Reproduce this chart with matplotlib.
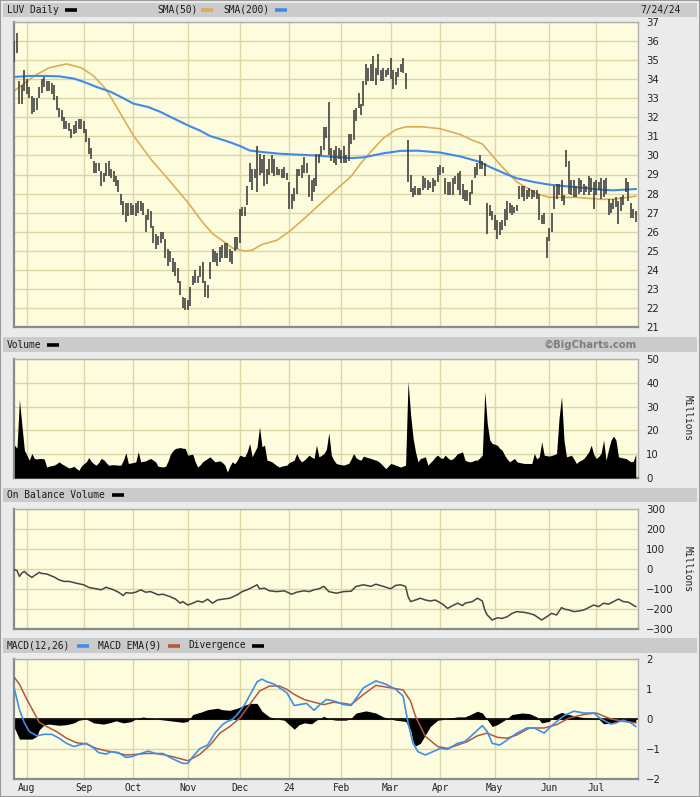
import numpy as np
import pandas as pd
import matplotlib
matplotlib.use("Agg")
import matplotlib.pyplot as plt
from matplotlib.patches import Rectangle
from matplotlib.lines import Line2D

plt.rcParams["font.family"] = "DejaVu Sans"

W, H = 700, 797

# -----------------------------
# Trading calendar (LUV daily, 7/25/23 - 7/24/24)
# -----------------------------
holidays = ["2023-09-04", "2023-11-23", "2023-12-25", "2024-01-01", "2024-01-15",
            "2024-02-19", "2024-03-29", "2024-05-27", "2024-06-19", "2024-07-04"]
dates = pd.bdate_range("2023-07-25", "2024-07-24", freq="C", holidays=holidays)
month_labels = ["Aug", "Sep", "Oct", "Nov", "Dec", "24", "Feb", "Mar", "Apr", "May", "Jun", "Jul"]

# -----------------------------
# Daily price range
# -----------------------------
high = [36.0, 36.4, 33.9, 33.7, 34.5, 34.0, 33.6, 33.1, 33.0, 33.0,
        33.6, 34.0, 34.1, 33.9, 33.9, 33.8, 33.7, 33.1, 32.5, 32.4,
        32.0, 31.8, 31.7, 31.4, 31.6, 31.8, 31.9, 31.9, 31.8, 31.4,
        30.9, 30.4, 29.7, 29.6, 29.6, 29.2, 29.1, 29.6, 29.7, 29.3,
        29.2, 28.9, 28.7, 28.0, 27.6, 27.5, 27.5, 27.5, 27.4, 27.5,
        27.6, 27.6, 27.5, 26.9, 27.2, 27.1, 26.3, 25.9, 25.8, 26.0,
        26.0, 25.6, 25.1, 25.0, 24.6, 24.4, 24.1, 23.4, 22.6, 22.5,
        22.4, 23.1, 23.7, 24.0, 23.7, 24.2, 24.4, 23.4, 23.2, 24.4,
        25.1, 25.0, 24.9, 25.2, 25.3, 25.4, 25.4, 25.1, 25.0, 25.7,
        25.7, 27.2, 27.3, 27.3, 28.4, 29.6, 29.3, 29.3, 30.5, 30.1,
        29.8, 30.0, 29.3, 29.8, 30.0, 29.8, 29.4, 29.3, 29.3, 29.4,
        29.1, 28.6, 28.0, 28.3, 29.3, 29.3, 29.5, 29.9, 29.6, 29.0,
        28.7, 28.8, 30.1, 30.1, 30.5, 31.5, 31.5, 32.8, 30.4, 30.3,
        30.5, 30.4, 30.3, 30.5, 30.0, 31.1, 31.1, 32.4, 32.5, 33.3,
        32.7, 33.9, 34.8, 34.6, 34.8, 35.2, 34.6, 35.3, 34.5, 34.6,
        34.5, 34.6, 35.1, 34.5, 34.4, 34.6, 34.8, 35.1, 34.3, 30.8,
        29.0, 28.3, 28.4, 28.3, 28.3, 28.9, 28.8, 28.7, 28.6, 28.8,
        28.7, 29.4, 29.5, 29.4, 28.8, 28.6, 28.6, 28.8, 28.9, 29.1,
        29.2, 28.5, 28.2, 28.2, 28.1, 28.7, 29.4, 29.6, 30.0, 29.7,
        29.6, 27.5, 27.4, 27.1, 26.9, 26.6, 26.5, 26.6, 27.2, 27.6,
        27.5, 27.4, 27.3, 27.4, 28.4, 28.4, 28.4, 28.2, 28.3, 28.2,
        28.2, 28.2, 28.0, 26.9, 27.0, 25.7, 26.2, 27.0, 28.4, 28.5,
        28.5, 28.7, 27.9, 30.3, 29.7, 28.7, 28.7, 28.4, 28.8, 28.7,
        28.5, 28.4, 28.9, 28.8, 28.6, 28.7, 28.6, 28.8, 28.7, 28.8,
        27.7, 27.5, 27.7, 27.8, 27.6, 27.8, 27.9, 28.8, 28.6, 27.5,
        27.2, 27.1]
low = [34.9, 35.4, 32.7, 32.7, 33.4, 33.2, 33.0, 32.2, 32.3, 32.4,
       33.0, 33.3, 33.6, 33.4, 33.4, 33.2, 32.9, 32.4, 32.0, 31.8,
       31.4, 31.4, 31.3, 30.9, 31.1, 31.2, 31.4, 31.4, 31.2, 30.7,
       30.1, 29.8, 29.1, 29.1, 29.2, 28.4, 28.6, 28.9, 28.9, 28.8,
       28.6, 28.4, 28.1, 27.4, 26.9, 26.5, 26.8, 26.9, 26.9, 26.8,
       27.0, 27.1, 26.9, 26.0, 26.6, 26.2, 25.4, 25.1, 25.3, 25.4,
       25.6, 24.6, 24.2, 24.4, 23.9, 23.7, 23.3, 22.7, 22.0, 21.9,
       21.9, 22.1, 23.2, 23.3, 23.3, 23.6, 23.3, 22.6, 22.5, 23.5,
       24.4, 24.4, 24.2, 24.4, 24.6, 24.6, 24.6, 24.4, 24.3, 25.0,
       25.1, 25.4, 26.8, 26.8, 27.4, 28.6, 28.2, 28.8, 28.1, 29.0,
       29.1, 28.4, 28.5, 29.0, 29.1, 28.9, 29.0, 29.0, 28.8, 28.8,
       28.7, 27.2, 27.2, 27.6, 28.0, 28.9, 28.8, 29.1, 29.1, 27.8,
       27.6, 28.1, 28.4, 29.6, 30.0, 30.3, 30.9, 30.0, 29.7, 29.6,
       29.5, 29.8, 29.6, 29.6, 29.6, 29.7, 30.6, 30.8, 31.8, 32.5,
       32.1, 32.6, 33.7, 33.9, 33.9, 33.9, 33.7, 34.2, 33.9, 33.9,
       34.1, 34.2, 34.0, 33.5, 33.7, 34.1, 34.4, 34.3, 33.5, 28.6,
       28.1, 27.8, 27.9, 27.9, 27.9, 28.2, 28.3, 28.2, 28.3, 28.1,
       28.4, 28.6, 29.0, 29.1, 28.0, 27.9, 27.9, 27.9, 28.5, 28.2,
       27.9, 27.7, 27.6, 27.6, 27.4, 28.0, 28.8, 29.0, 29.3, 29.3,
       28.9, 25.9, 26.8, 26.6, 26.1, 25.6, 25.85, 26.1, 26.3, 26.6,
       27.0, 26.9, 27.0, 27.1, 27.7, 27.8, 27.6, 27.7, 27.8, 27.7,
       27.8, 27.7, 26.6, 26.4, 26.4, 24.6, 25.5, 26.0, 27.2, 27.7,
       27.9, 27.6, 27.4, 29.4, 28.0, 27.9, 27.8, 27.8, 28.0, 28.1,
       27.9, 28.1, 27.9, 28.1, 27.2, 27.9, 28.2, 27.7, 27.8, 28.0,
       26.9, 27.0, 27.2, 27.3, 26.4, 27.1, 27.4, 28.1, 27.6, 26.7,
       26.7, 26.5]

# Moving averages (day index, value)
sma50_day = [0, 8, 14, 21, 27, 32, 37, 41, 48, 55, 62, 70, 76, 80, 84, 88, 93, 96,
             100, 106, 111, 118, 123, 129, 136, 140, 144, 149, 154, 158, 165, 172,
             180, 185, 189, 193, 197, 203, 207, 211, 216, 227, 237, 242, 251]
sma50_val = [33.4, 34.17, 34.6, 34.8, 34.6, 34.17, 33.47, 32.6, 31.05, 29.82,
             28.77, 27.54, 26.49, 25.9, 25.53, 25.15, 24.98, 25.03, 25.33, 25.55,
             26.0, 26.8, 27.4, 28.1, 28.9, 29.6, 30.2, 30.9, 31.35, 31.5, 31.5,
             31.4, 31.1, 30.8, 30.6, 30.0, 29.4, 28.6, 28.3, 28.0, 27.8, 27.8,
             27.7, 27.7, 27.86]
sma200_day = [0, 6, 12, 18, 24, 28, 33, 39, 44, 48, 54, 59, 64, 70, 75, 79, 86,
              91, 95, 100, 107, 121, 132, 136, 141, 149, 156, 163, 172, 180, 187,
              193, 199, 203, 210, 216, 223, 230, 237, 242, 251]
sma200_val = [34.12, 34.17, 34.17, 34.15, 34.03, 33.86, 33.6, 33.33, 33.0, 32.72,
              32.54, 32.28, 31.96, 31.58, 31.3, 31.02, 30.74, 30.5, 30.26, 30.18,
              30.09, 30.0, 29.9, 29.86, 29.9, 30.11, 30.24, 30.25, 30.15, 29.95,
              29.7, 29.34, 29.0, 28.8, 28.6, 28.47, 28.38, 28.3, 28.2, 28.17, 28.24]

# Volume, millions per day
volume = [13.8, 12.5, 33.0, 22.0, 11.7, 9.6, 7.5, 10.3, 8.2, 8.0,
          8.2, 8.2, 8.0, 4.6, 5.0, 5.2, 5.4, 6.0, 6.8, 6.0,
          5.4, 4.8, 4.2, 4.5, 4.9, 4.0, 3.2, 5.0, 6.0, 6.8,
          8.6, 7.0, 6.0, 5.4, 6.5, 8.2, 7.7, 6.5, 5.4, 5.5,
          5.6, 5.5, 5.4, 5.4, 7.5, 10.6, 6.1, 6.3, 6.5, 6.8,
          11.0, 6.8, 7.0, 7.2, 7.8, 8.2, 7.5, 6.8, 4.9, 4.8,
          4.6, 4.9, 7.0, 10.0, 11.5, 12.4, 12.6, 12.8, 12.5, 12.4,
          9.6, 9.8, 10.0, 6.8, 4.6, 5.5, 6.8, 7.5, 8.2, 8.9,
          7.8, 6.8, 7.0, 7.2, 6.5, 5.4, 2.5, 5.0, 6.8, 6.0,
          7.5, 9.6, 9.2, 8.9, 11.0, 14.5, 8.9, 11.0, 13.1, 21.5,
          13.1, 13.8, 7.5, 7.2, 6.8, 6.0, 5.2, 4.6, 5.0, 5.2,
          5.4, 6.5, 7.0, 7.5, 10.3, 8.0, 6.8, 7.5, 8.5, 9.6,
          8.8, 8.2, 13.8, 8.9, 9.5, 10.3, 12.0, 19.0, 9.6, 7.5,
          6.1, 5.8, 5.6, 5.4, 5.8, 6.1, 8.0, 10.3, 8.5, 7.8,
          7.5, 9.2, 8.8, 8.5, 8.2, 7.8, 7.5, 7.0, 6.1, 5.0,
          3.9, 5.0, 6.1, 5.8, 5.4, 5.0, 4.6, 5.0, 5.4, 40.6,
          27.0, 17.0, 11.0, 6.8, 8.2, 8.5, 8.9, 5.4, 6.5, 7.5,
          8.9, 9.6, 8.5, 8.2, 9.6, 8.5, 7.7, 8.0, 9.0, 10.3,
          10.5, 11.0, 7.5, 7.0, 6.8, 7.0, 7.5, 7.5, 8.5, 9.6,
          36.3, 23.0, 16.0, 14.5, 14.2, 13.8, 12.5, 11.7, 9.6, 8.0,
          6.8, 7.5, 8.2, 6.8, 6.5, 6.3, 6.1, 6.1, 6.1, 6.1,
          10.3, 8.0, 8.9, 15.2, 9.6, 9.4, 9.2, 9.5, 9.8, 10.3,
          25.0, 34.2, 15.9, 8.9, 9.2, 9.6, 8.0, 6.1, 7.0, 7.5,
          8.2, 9.5, 11.0, 13.8, 10.0, 8.2, 9.0, 10.5, 15.9, 7.5,
          12.0, 15.9, 17.6, 15.9, 8.9, 8.6, 8.4, 8.2, 7.5, 6.8,
          7.0, 10.0]

# On balance volume, millions (day index, value)
obv_day = [0, 1, 2, 3, 4, 5, 7, 9, 10, 11, 13, 16, 18, 20, 22, 25, 28, 30, 33, 35,
           37, 40, 42, 44, 45, 47, 49, 51, 53, 55, 58, 60, 63, 65, 67, 68, 70, 72,
           74, 76, 78, 80, 82, 84, 87, 90, 92, 94, 96, 98, 99, 101, 103, 106, 109,
           112, 114, 117, 119, 121, 123, 125, 127, 130, 133, 136, 138, 141, 144,
           146, 149, 152, 154, 156, 158, 159, 160, 162, 164, 166, 168, 170, 173,
           175, 177, 179, 181, 182, 185, 187, 189, 190, 191, 193, 195, 197, 199,
           201, 203, 206, 208, 210, 213, 215, 217, 219, 221, 222, 224, 226, 228,
           230, 232, 234, 236, 238, 240, 242, 244, 246, 248, 251]
obv_val = [-3, -8, -37, -20, -12, -25, -42, -25, -17, -22, -25, -40, -54, -62, -62,
           -71, -79, -92, -99, -104, -91, -104, -116, -133, -118, -121, -116, -104,
           -116, -113, -129, -126, -139, -150, -171, -163, -180, -171, -160, -166,
           -151, -171, -155, -151, -146, -129, -113, -104, -92, -79, -99, -96, -109,
           -113, -109, -126, -116, -109, -113, -104, -99, -87, -113, -121, -113,
           -111, -87, -79, -87, -76, -87, -99, -82, -79, -87, -138, -163, -155,
           -146, -155, -160, -155, -176, -197, -183, -171, -183, -171, -163, -146,
           -160, -205, -230, -255, -244, -247, -239, -222, -213, -217, -222, -230,
           -255, -239, -222, -230, -193, -200, -205, -213, -210, -205, -193, -180,
           -188, -171, -176, -163, -150, -163, -166, -188]

# MACD(12,26), EMA(9) and divergence (day index, value)
macd_day = [0, 2, 4, 6, 9, 12, 15, 18, 21, 24, 26, 29, 32, 34, 37, 39, 42, 45, 47,
            51, 54, 57, 60, 63, 65, 68, 70, 72, 75, 78, 81, 84, 86, 88, 90, 93, 96,
            98, 100, 102, 105, 107, 110, 113, 115, 118, 121, 123, 126, 129, 133,
            136, 141, 146, 150, 154, 157, 159, 161, 163, 166, 169, 172, 175, 179,
            182, 185, 189, 191, 193, 196, 199, 203, 207, 210, 214, 216, 220, 222,
            226, 230, 234, 237, 241, 243, 246, 249, 251]
macd_val = [0.99, 0.31, -0.13, -0.42, -0.56, -0.51, -0.51, -0.64, -0.81, -0.92,
            -0.87, -0.81, -0.97, -1.12, -1.17, -1.09, -1.12, -1.28, -1.26, -1.15,
            -1.07, -1.15, -1.15, -1.29, -1.37, -1.48, -1.48, -1.26, -0.98, -0.87,
            -0.47, -0.19, -0.08, -0.02, 0.15, 0.48, 0.93, 1.24, 1.33, 1.24, 1.16,
            1.04, 0.88, 0.45, 0.48, 0.52, 0.29, 0.45, 0.65, 0.6, 0.48, 0.45, 1.04,
            1.27, 1.16, 0.99, 0.76, -0.13, -0.81, -1.09, -1.2, -1.09, -0.98, -1.01,
            -0.81, -0.75, -0.53, -0.22, -0.42, -0.81, -0.87, -0.7, -0.47, -0.3,
            -0.3, -0.47, -0.3, -0.02, 0.11, 0.26, 0.2, 0.2, 0.0, -0.17, -0.13,
            -0.04, -0.13, -0.25]
ema_day = [0, 2, 5, 8, 10, 13, 17, 21, 25, 29, 33, 37, 41, 45, 49, 53, 57, 61, 65,
           70, 72, 75, 79, 83, 87, 91, 95, 99, 103, 107, 110, 113, 117, 121, 125,
           129, 133, 136, 141, 146, 152, 157, 160, 162, 166, 171, 175, 179, 183,
           187, 191, 195, 199, 203, 208, 214, 219, 224, 230, 235, 241, 246, 251]
ema_val = [1.38, 1.16, 0.65, 0.2, -0.11, -0.25, -0.42, -0.64, -0.79, -0.83, -0.98,
           -1.06, -1.12, -1.2, -1.18, -1.15, -1.15, -1.2, -1.28, -1.39, -1.31,
           -1.17, -0.87, -0.47, -0.25, 0.03, 0.48, 0.93, 1.1, 1.1, 0.99, 0.82,
           0.65, 0.56, 0.48, 0.56, 0.52, 0.48, 0.82, 1.12, 1.04, 0.97, 0.6, 0.09,
           -0.58, -0.92, -0.98, -0.87, -0.75, -0.56, -0.47, -0.61, -0.64, -0.53,
           -0.3, -0.3, -0.19, 0.03, 0.15, 0.2, 0.0, -0.08, -0.13]
div_day = [0, 2, 7, 9, 10, 12, 14, 18, 21, 24, 26, 29, 32, 36, 39, 41, 44, 47, 49,
           52, 54, 57, 61, 65, 68, 70, 72, 75, 78, 82, 84, 87, 90, 92, 95, 98, 100,
           103, 106, 109, 111, 113, 115, 117, 120, 122, 125, 127, 130, 134, 136,
           138, 142, 146, 149, 152, 154, 158, 160, 161, 162, 164, 166, 168, 171,
           173, 176, 179, 182, 185, 187, 189, 191, 193, 195, 198, 201, 205, 208,
           211, 213, 216, 218, 221, 224, 228, 232, 236, 238, 242, 245, 249, 251]
div_val = [-0.3, -0.67, -0.67, -0.58, -0.36, -0.19, -0.17, -0.21, -0.19, -0.13,
           -0.04, 0.0, -0.13, -0.17, -0.11, -0.06, -0.13, -0.09, 0.0, 0.07, 0.03,
           0.0, -0.04, -0.08, -0.11, -0.08, 0.15, 0.22, 0.31, 0.36, 0.31, 0.29,
           0.36, 0.43, 0.52, 0.52, 0.26, 0.07, 0.0, -0.04, -0.19, -0.34, -0.19,
           -0.13, -0.16, -0.04, 0.09, 0.0, -0.04, -0.04, 0.03, 0.2, 0.27, 0.2,
           0.07, 0.0, -0.04, -0.08, -0.36, -0.75, -0.9, -0.81, -0.53, -0.25,
           -0.04, -0.02, 0.03, 0.07, 0.07, 0.18, 0.26, 0.2, -0.02, -0.25, -0.19,
           -0.04, 0.15, 0.2, 0.18, 0.07, -0.13, -0.08, 0.11, 0.22, 0.15, 0.07,
           0.03, 0.0, -0.16, -0.13, -0.04, -0.08, -0.11]

# -----------------------------
# Styling
# -----------------------------
bg_outer = "#ebebeb"
bar_gray = "#cbcbcb"
plot_bg = "#fdfcdd"
grid_col = "#dcd6a6"
sma50_col = "#dcad56"
sma200_col = "#3f8ae8"
macd_col = "#3f8fe8"
ema_col = "#b3573f"
mono = "DejaVu Sans Mono"

x = np.arange(len(dates))
month_pos = np.flatnonzero(np.diff(dates.month) != 0) + 1

fig = plt.figure(figsize=(W / 100, H / 100), dpi=100, facecolor=bg_outer)


def fx(px):
    return px / W


def fy(py):
    return 1 - py / H


def header(y0, y1):
    fig.add_artist(Rectangle((fx(3), fy(y1)), fx(694), (y1 - y0) / H,
                             transform=fig.transFigure, facecolor=bar_gray,
                             edgecolor="none", zorder=0))


def htext(px, py, s, **kw):
    fig.text(fx(px), fy(py), s, family=mono, fontsize=6.9, color="#1a1a1a",
             va="center", ha="left", **kw)


def swatch(x0, x1, py, color):
    fig.add_artist(Line2D([fx(x0), fx(x1)], [fy(py), fy(py)], transform=fig.transFigure,
                          color=color, lw=2.6, solid_capstyle="butt"))


def panel(y0, y1, ylim, yticks, ylabels):
    ax = fig.add_axes([fx(14), fy(y1), fx(624), (y1 - y0) / H])
    ax.set_facecolor(plot_bg)
    ax.set_xlim(-0.2, 251.9)
    ax.set_ylim(*ylim)
    ax.set_xticks(month_pos)
    ax.set_yticks(yticks)
    ax.set_yticklabels(ylabels)
    ax.grid(True, color=grid_col, lw=1)
    ax.set_axisbelow(True)
    ax.yaxis.tick_right()
    ax.tick_params(axis="y", length=0, pad=6, labelsize=7.3, labelcolor="#222222")
    ax.tick_params(axis="x", length=0, labelbottom=False)
    for side in ["top", "right"]:
        ax.spines[side].set_color("#b0b0b0")
        ax.spines[side].set_linewidth(1)
    for side in ["left", "bottom"]:
        ax.spines[side].set_color("#8a8a8a")
        ax.spines[side].set_linewidth(1.6)
    return ax


def fmt(v):
    return str(v).replace("-", "\u2212")


# outer frame
fig.add_artist(Rectangle((0, 0), 1, 1, transform=fig.transFigure, facecolor="none",
                         edgecolor="#9a9a9a", lw=1.5))

# -----------------------------
# Price panel
# -----------------------------
header(3, 17)
htext(7, 10, "LUV Daily")
swatch(65, 77, 10, "black")
htext(157, 10, "SMA(50)")
swatch(201, 213, 10, sma50_col)
htext(223, 10, "SMA(200)")
swatch(275, 287, 10, sma200_col)
htext(640, 10, "7/24/24")

price_ticks = list(range(21, 38))
ax1 = panel(22, 327, (21, 37), price_ticks, [fmt(t) for t in price_ticks])
ax1.vlines(x, low, high, color="#3a3a3a", lw=1.15, zorder=3)
ax1.plot(sma50_day, sma50_val, color=sma50_col, lw=1.2, zorder=2)
ax1.plot(sma200_day, sma200_val, color=sma200_col, lw=1.5, zorder=2)

# -----------------------------
# Volume panel
# -----------------------------
header(337, 352)
htext(7, 344.5, "Volume")
swatch(47, 59, 344.5, "black")
fig.text(fx(637), fy(344.5), "\u00a9BigCharts.com", fontsize=7.3, fontweight="bold",
         color="#7d7d7d", ha="right", va="center")

vol_ticks = [0, 10, 20, 30, 40, 50]
ax2 = panel(359, 478, (0, 50), vol_ticks, [fmt(t) for t in vol_ticks])
ax2.fill_between(x, 0, volume, color="black", lw=0, zorder=3)
fig.text(fx(688), fy(418), "Millions", family=mono, fontsize=6.9, rotation=270,
         ha="center", va="center", color="#222222")

# -----------------------------
# On balance volume panel
# -----------------------------
header(488, 502)
htext(7, 495, "On Balance Volume")
swatch(112, 124, 495, "black")

obv_ticks = [-300, -200, -100, 0, 100, 200, 300]
ax3 = panel(509, 629, (-300, 300), obv_ticks, [fmt(t) for t in obv_ticks])
ax3.plot(obv_day, obv_val, color="#454545", lw=1.1, zorder=3)
fig.text(fx(688), fy(569), "Millions", family=mono, fontsize=6.9, rotation=270,
         ha="center", va="center", color="#222222")

# -----------------------------
# MACD panel
# -----------------------------
header(638, 653)
htext(7, 645.5, "MACD(12,26)")
swatch(77, 89, 645.5, macd_col)
htext(98, 645.5, "MACD EMA(9)")
swatch(168, 180, 645.5, ema_col)
htext(188, 645.5, "Divergence")
swatch(252, 264, 645.5, "black")

macd_ticks = [-2, -1, 0, 1, 2]
ax4 = panel(659, 779, (-2, 2), macd_ticks, [fmt(t) for t in macd_ticks])
ax4.fill_between(div_day, 0, div_val, color="black", lw=0, zorder=2)
ax4.axhline(0, color="black", lw=1.2, zorder=2)
ax4.plot(ema_day, ema_val, color=ema_col, lw=1.1, zorder=3)
ax4.plot(macd_day, macd_val, color=macd_col, lw=1.2, zorder=4)
ax4.set_xticklabels(month_labels)
ax4.tick_params(axis="x", labelbottom=True, pad=3, labelsize=6.9, labelcolor="#222222")
for lbl in ax4.get_xticklabels():
    lbl.set_family(mono)

fig.savefig("out.png", dpi=100, facecolor=bg_outer)
